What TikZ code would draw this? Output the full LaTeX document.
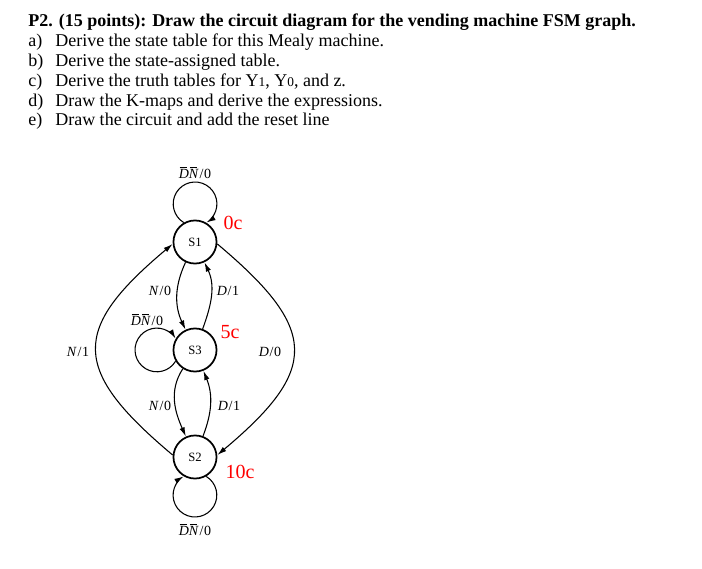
\documentclass[tikz,border=0pt]{standalone}
\usepackage{fontspec}
\setmainfont{Liberation Serif}
\usetikzlibrary{arrows.meta}
\newcommand\ovlet[1]{\makebox[0pt][l]{\hspace{0.6pt}\raisebox{8.2pt}{\rule{5.2pt}{0.45pt}}}\textit{#1}}
\newcommand\smalldigit[1]{{\fontsize{10}{10}\selectfont #1}}
\newcommand\slashlbl[2]{\textit{#1}\kern0.6pt/\kern0.4pt#2}
\begin{document}
\begin{tikzpicture}[x=0.75pt,y=0.75pt,
  state/.style={circle,draw,line width=1.3pt,minimum size=32.3pt,inner sep=0pt,font=\fontsize{9.5}{10}\selectfont},
  conn/.style={line width=0.8pt,-{Latex[length=7pt,width=4pt]}},
  lbl/.style={font=\fontsize{10.5}{12}\selectfont,inner sep=0pt},
  cents/.style={font=\fontsize{15}{17}\selectfont,text=red,inner sep=0pt},
  qtext/.style={anchor=base west,inner sep=0pt,font=\fontsize{13.5}{15}\selectfont}]
\useasboundingbox[fill=white] (0,0) rectangle (702,568);

% question text
\node[qtext,font=\fontsize{13.5}{15}\selectfont\bfseries] (title) at (28,541.5) {P2. (15 points): Draw the circuit diagram for the vending machine FSM graph.};
\node[qtext] (la) at (28,521.5) {a)};
\node[qtext] (ta) at (55,521.5) {Derive the state table for this Mealy machine.};
\node[qtext] (lb) at (28,501.5) {b)};
\node[qtext] (tb) at (55,501.5) {Derive the state-assigned table.};
\node[qtext] (lc) at (28,481.5) {c)};
\node[qtext] (tc) at (55,481.5) {Derive the truth tables for Y\smalldigit{1}, Y\smalldigit{0}, and z.};
\node[qtext] (ld) at (28,461.5) {d)};
\node[qtext] (td) at (55,461.5) {Draw the K-maps and derive the expressions.};
\node[qtext] (le) at (28,442) {e)};
\node[qtext] (te) at (55,442) {Draw the circuit and add the reset line};

% states
\node[state] (S1) at (195,326) {S1};
\node[state] (S3) at (195,218) {S3};
\node[state] (S2) at (195,111) {S2};

% self loops
\draw[conn] (S1.120) arc[start angle=239, end angle=-59, radius=21.85];
\draw[conn] (S3.210) arc[start angle=329, end angle=31, radius=21.85];
\draw[conn] (S2.300) arc[start angle=59, end angle=-239, radius=21.85];

% inner edges
\draw[conn] (S1) to[out=245,in=115] (S3);
\draw[conn] (S3) to[out=70,in=295] (S1);
\draw[conn] (S3) to[out=237,in=114] (S2);
\draw[conn] (S2) to[out=69,in=292] (S3);

% outer edges
\draw[conn] (S2.175) .. controls +(140:133) and +(220:133) .. (S1.185);
\draw[conn] (S1.355) .. controls +(-40:133) and +(40:133) .. (S2.5);

% labels
\node[lbl] (l1) at (195,395) {\ovlet{D}\ovlet{N}\kern0.6pt/\kern0.4pt0};
\node[lbl] (l2) at (147,248) {\ovlet{D}\ovlet{N}\kern0.6pt/\kern0.4pt0};
\node[lbl] (l3) at (195,38) {\ovlet{D}\ovlet{N}\kern0.6pt/\kern0.4pt0};
\node[lbl] (l4) at (160,277) {\slashlbl{N}{0}};
\node[lbl] (l5) at (228,277) {\slashlbl{D}{1}};
\node[lbl] (l6) at (160,162) {\slashlbl{N}{0}};
\node[lbl] (l7) at (229,162) {\slashlbl{D}{1}};
\node[lbl] (l8) at (78,216) {\slashlbl{N}{1}};
\node[lbl] (l9) at (270,216) {\slashlbl{D}{0}};

\node[cents] (c0) at (233,345) {0c};
\node[cents] (c5) at (230,236) {5c};
\node[cents] (c10) at (240,96) {10c};
\end{tikzpicture}
\end{document}
